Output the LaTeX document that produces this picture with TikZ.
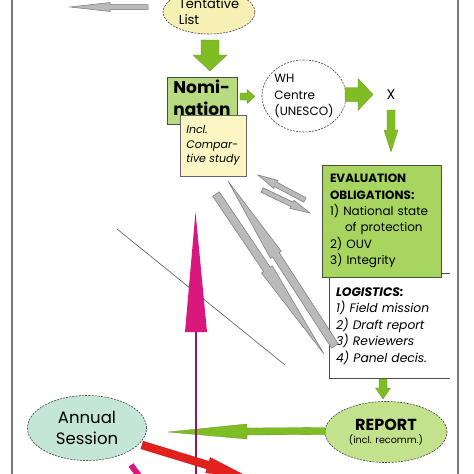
\documentclass[tikz,border=0pt]{standalone}
\usepackage{fontspec}
\setmainfont{Poppins}
\usetikzlibrary{calc,shapes.geometric}
\definecolor{arrgreen}{RGB}{128,188,36}
\definecolor{arrgreenD}{RGB}{100,150,30}
\definecolor{nomfill}{RGB}{184,218,128}
\definecolor{evalfill}{RGB}{168,212,96}
\definecolor{repfill}{RGB}{196,226,142}
\definecolor{notefill}{RGB}{251,246,196}
\definecolor{tentfill}{RGB}{246,240,180}
\definecolor{annfill}{RGB}{196,230,214}
\definecolor{grayfill}{RGB}{186,186,186}
\definecolor{grayedge}{RGB}{120,120,120}
\definecolor{magentaA}{RGB}{216,24,124}
\definecolor{purpleL}{RGB}{142,24,104}
\definecolor{redA}{RGB}{226,32,28}
\definecolor{boxedge}{RGB}{70,80,60}
\newcommand\blockarrow[6]{%
  \coordinate (ba-h) at ($(#3)!#6pt!(#2)$);
  \draw[#1] ($(#2)!#4pt!90:(#3)$) -- ($(ba-h)!#4pt!90:(#3)$) -- ($(ba-h)!#5pt!90:(#3)$) -- (#3)
    -- ($(ba-h)!#5pt!-90:(#3)$) -- ($(ba-h)!#4pt!-90:(#3)$) -- ($(#2)!#4pt!-90:(#3)$) -- cycle;}
\tikzset{
  dashell/.style={ellipse, draw=black!75, dash pattern=on 2pt off 1.2pt, line width=0.6pt, inner sep=0pt, align=left},
  greenarr/.style={fill=arrgreen, draw=arrgreenD, line width=0.3pt},
  grayarr/.style={fill=grayfill, draw=grayedge, line width=0.5pt},
  frame/.style={draw=grayedge, line width=1.1pt},
}
\begin{document}
\begin{tikzpicture}[x=1pt,y=-1pt]
\useasboundingbox (0,0) rectangle (474,474);
\clip (0,0) rectangle (474,474);
\fill[white] (0,0) rectangle (474,474);
% frame lines
\coordinate (fl1) at (12,0); \coordinate (fl2) at (12,474);
\coordinate (fr1) at (458,0); \coordinate (fr2) at (458,474);
\draw[frame] (fl1) -- (fl2);
\draw[frame] (fr1) -- (fr2);
% nodes
\node[dashell, fill=tentfill, minimum width=92pt, minimum height=44pt, font=\fontsize{13}{16}\selectfont] (tent) at (209,12) {Tentative\\List};
\node[draw=boxedge, fill=nomfill, line width=0.8pt, minimum width=70pt, minimum height=47pt, inner sep=0pt, font=\fontsize{17}{22}\selectfont\bfseries] (nom) at (202,100.5) {\raisebox{5pt}{\begin{tabular}{@{}l@{}}Nomi-\\nation\end{tabular}}};
\node[draw=black!60, fill=notefill, line width=0.5pt, minimum width=66pt, minimum height=61pt, inner sep=0pt, align=left, font=\fontsize{11}{14.5}\selectfont\itshape] (note) at (213,145.5) {Incl.\\Compar-\\tive study};
\node[dashell, fill=white, minimum width=84pt, minimum height=72pt, font=\fontsize{12}{16.5}\selectfont] (wh) at (304,96) {WH\\Centre\\(UNESCO)};
\node[font=\fontsize{14}{16}\selectfont, inner sep=0pt] (x) at (391,95) {X};
\node[draw=none, minimum width=120pt, minimum height=104pt, inner xsep=6pt, inner ysep=0pt, text width=108pt, align=left, font=\fontsize{12.3}{16.5}\selectfont\itshape] (logi) at (390,326) {\textbf{LOGISTICS:}\\1) Field mission\\2) Draft report\\3) Reviewers\\4) Panel decis.};
\draw[black!70, line width=0.8pt] (logi.north east) -- (logi.north west) -- (logi.south west) -- (logi.south east);
\node[draw=boxedge, fill=evalfill, line width=0.9pt, minimum width=119pt, minimum height=112pt, inner xsep=8pt, inner ysep=0pt, text width=103pt, align=left, font=\fontsize{12}{16.4}\selectfont] (eval) at (381.5,221) {\textbf{EVALUATION}\\\textbf{OBLIGATIONS:}\\1) National~state\\\hspace*{15pt}of protection\\2) OUV\\3) Integrity};
\node[dashell, fill=repfill, minimum width=122pt, minimum height=61pt, align=center] (rep) at (386,432) {{\fontsize{16}{18}\selectfont\bfseries REPORT}\\[1pt]{\fontsize{9.6}{11}\selectfont (incl. recomm.)}};
\node[dashell, fill=annfill, minimum width=119pt, minimum height=65pt, align=center, font=\fontsize{16.5}{21}\selectfont] (ann) at (87,428) {Annual\\Session};
% green block arrows
\coordinate (g1t) at (210,40); \coordinate (g1p) at (210,71);
\blockarrow{greenarr}{g1t}{g1p}{9}{17}{16}
\coordinate (g2t) at (240,96.5); \coordinate (g2p) at (255,96.5);
\blockarrow{greenarr}{g2t}{g2p}{3.5}{7}{8}
\coordinate (g3t) at (345,94.5); \coordinate (g3p) at (373,94.5);
\blockarrow{greenarr}{g3t}{g3p}{7}{16}{15}
\coordinate (g4t) at (391,110); \coordinate (g4p) at (391,152);
\blockarrow{greenarr}{g4t}{g4p}{4}{7}{22}
\coordinate (g5t) at (383,379); \coordinate (g5p) at (383,399);
\blockarrow{greenarr}{g5t}{g5p}{4}{7.5}{11}
\coordinate (g6t) at (325,431); \coordinate (g6p) at (168,432);
\blockarrow{greenarr}{g6t}{g6p}{3.5}{7.5}{79}
% gray arrows
\coordinate (k1t) at (148,7); \coordinate (k1p) at (70,7);
\blockarrow{grayarr}{k1t}{k1p}{2.5}{4.5}{40}
\coordinate (k2t) at (305,200); \coordinate (k2p) at (258,175);
\blockarrow{grayarr}{k2t}{k2p}{2.5}{4.5}{20}
\coordinate (k3t) at (262,190); \coordinate (k3p) at (310,213);
\blockarrow{grayarr}{k3t}{k3p}{2.5}{4.5}{20}
\coordinate (k4t) at (216,194); \coordinate (k4p) at (324,354);
\blockarrow{grayarr}{k4t}{k4p}{4}{6.5}{102}
\coordinate (k5t) at (335,346); \coordinate (k5p) at (228,181);
\blockarrow{grayarr}{k5t}{k5p}{4}{6.5}{88}
% thin diagonal line
\coordinate (d1) at (117,229); \coordinate (d2) at (285,365);
\draw[black!65, line width=0.6pt] (d1) -- (d2);
% magenta arrow
\coordinate (mt) at (195.5,212); \coordinate (mb) at (196,332); \coordinate (me) at (196,474);
\draw[purpleL, line width=2pt] (mb) -- (me);
\fill[magentaA] ($(mb)+(-11,0)$) -- (mt) -- ($(mb)+(11,0)$) -- cycle;
% red arrow
\coordinate (r1) at (142,445); \coordinate (r2) at (250,478);
\blockarrow{fill=redA, draw=redA!80!black, line width=0.3pt}{r1}{r2}{4}{8}{44}
% small magenta bit
\coordinate (s1) at (131,465); \coordinate (s2) at (142,480);
\draw[magentaA, line width=6pt] (s1) -- (s2);
\end{tikzpicture}
\end{document}
